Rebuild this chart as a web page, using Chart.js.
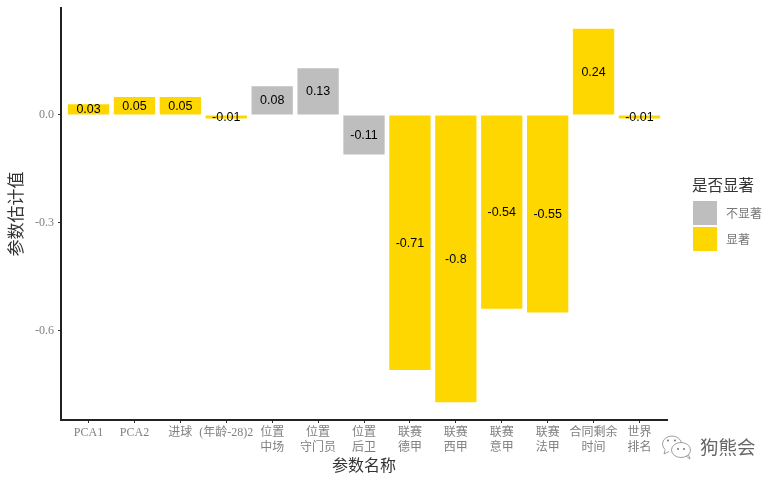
<!DOCTYPE html>
<html>
<head>
<meta charset="utf-8">
<script src="https://cdn.jsdelivr.net/npm/chart.js@4"></script>
<style>
html, body { margin: 0; padding: 0; background: #fff; }
canvas { display: block; }
</style>
</head>
<body>
<canvas id="chart" width="781" height="482"></canvas>
<script>
// Parameter estimates for each model term, with significance flag
const categories = [
  'PCA1', 'PCA2', '进球', '(年龄-28)2', ['位置', '中场'], ['位置', '守门员'], ['位置', '后卫'],
  ['联赛', '德甲'], ['联赛', '西甲'], ['联赛', '意甲'], ['联赛', '法甲'], ['合同剩余', '时间'], ['世界', '排名']
];
const estimates = [0.03, 0.05, 0.05, -0.01, 0.08, 0.13, -0.11, -0.71, -0.8, -0.54, -0.55, 0.24, -0.01];
const significant = [1, 1, 1, 1, 0, 0, 0, 1, 1, 1, 1, 1, 1];
const yTicks = [-0.6, -0.3, 0];
const groupNames = ['不显著', '显著'];
const groupColors = ['#BEBEBE', '#FFD700'];
const legendTitle = '是否显著';
const xTitle = '参数名称';
const yTitle = '参数估计值';
const brand = '狗熊会';

const CJK = '"Noto Sans CJK SC", sans-serif';
const TICK_FONT = '"Liberation Serif", "Noto Sans CJK SC", serif';

function pointsFor(flag) {
  const out = [];
  estimates.forEach((v, i) => { if (significant[i] === flag) out.push({ x: i, y: v }); });
  return out;
}

// Writes each estimate at the middle of its bar
const barValueLabels = {
  id: 'barValueLabels',
  afterDatasetsDraw(chart) {
    const ctx = chart.ctx;
    ctx.save();
    ctx.font = '12.5px "Liberation Sans", sans-serif';
    ctx.fillStyle = '#000';
    ctx.textAlign = 'center';
    ctx.textBaseline = 'middle';
    chart.data.datasets.forEach((ds, d) => {
      chart.getDatasetMeta(d).data.forEach((bar, i) => {
        ctx.fillText(String(ds.data[i].y), bar.x, (bar.y + bar.base) / 2 + 0.5);
      });
    });
    ctx.restore();
  }
};

// Significance key placed to the right of the plot
const sideKey = {
  id: 'sideKey',
  afterDraw(chart) {
    const ctx = chart.ctx;
    ctx.save();
    ctx.textBaseline = 'middle';
    ctx.textAlign = 'left';
    ctx.fillStyle = '#333';
    ctx.font = '15.5px ' + CJK;
    ctx.fillText(legendTitle, 692, 185);
    chart.data.datasets.forEach((ds, i) => {
      const top = 201 + i * 26;
      ctx.fillStyle = ds.backgroundColor;
      ctx.fillRect(693, top, 24, 24);
      ctx.fillStyle = '#777';
      ctx.font = '12px ' + CJK;
      ctx.fillText(ds.label, 726, top + 12);
    });
    ctx.restore();
  }
};

// Account mark in the lower right corner: two chat bubbles and the name
const accountMark = {
  id: 'accountMark',
  afterDraw(chart) {
    const ctx = chart.ctx;
    ctx.save();
    ctx.strokeStyle = '#777';
    ctx.lineWidth = 0.7;
    ctx.beginPath();
    ctx.ellipse(672, 444, 9.5, 8, 0, Math.PI * 0.75, Math.PI * 0.25 + Math.PI * 2);
    ctx.moveTo(665, 450);
    ctx.lineTo(664, 454);
    ctx.lineTo(669, 451.5);
    ctx.stroke();
    ctx.beginPath();
    ctx.fillStyle = '#fff';
    ctx.ellipse(681, 450, 9.5, 7.5, 0, 0, Math.PI * 2);
    ctx.fill();
    ctx.stroke();
    ctx.beginPath();
    ctx.moveTo(686, 456);
    ctx.lineTo(690, 459);
    ctx.lineTo(688.5, 454.5);
    ctx.stroke();
    ctx.fillStyle = '#666';
    [[668, 440.5], [675, 440.5], [678, 449], [684, 449]].forEach(p => {
      ctx.beginPath();
      ctx.arc(p[0], p[1], 0.9, 0, Math.PI * 2);
      ctx.fill();
    });
    ctx.fillStyle = '#666';
    ctx.font = '18.5px ' + CJK;
    ctx.textAlign = 'left';
    ctx.textBaseline = 'middle';
    ctx.fillText(brand, 700, 447);
    ctx.restore();
  }
};

new Chart(document.getElementById('chart'), {
  type: 'bar',
  data: {
    datasets: groupNames.map((name, g) => ({
      label: name,
      data: pointsFor(g === 1 ? 1 : 0),
      backgroundColor: groupColors[g]
    }))
  },
  options: {
    responsive: false,
    animation: false,
    devicePixelRatio: 1,
    grouped: false,
    barPercentage: 0.9,
    categoryPercentage: 1,
    layout: { padding: { top: 8, right: 114, left: 0, bottom: 0 } },
    plugins: { legend: { display: false }, tooltip: { enabled: false } },
    scales: {
      x: {
        type: 'linear',
        offset: false,
        min: -0.6,
        max: 12.6,
        afterBuildTicks(axis) { axis.ticks = categories.map((_, i) => ({ value: i })); },
        afterFit(axis) { axis.height = 62; axis.paddingLeft = 0; axis.paddingRight = 0; },
        border: { color: '#222', width: 2 },
        grid: { offset: false, drawOnChartArea: false, color: '#333', tickLength: 3, tickWidth: 1 },
        ticks: {
          autoSkip: false,
          maxRotation: 0,
          minRotation: 0,
          padding: 3,
          color: '#808080',
          font: { family: TICK_FONT, size: 12, lineHeight: 1.2 },
          callback: v => categories[v]
        },
        title: {
          display: true,
          text: xTitle,
          color: '#333',
          font: { family: CJK, size: 16 },
          padding: { top: 0, bottom: 7 }
        }
      },
      y: {
        type: 'linear',
        min: -0.8496,
        max: 0.298,
        afterBuildTicks(axis) { axis.ticks = yTicks.map(v => ({ value: v })); },
        afterFit(axis) { axis.width = 61; axis.paddingTop = 0; axis.paddingBottom = 0; },
        border: { color: '#222', width: 2 },
        grid: { drawOnChartArea: false, color: '#333', tickLength: 3, tickWidth: 1 },
        ticks: {
          padding: 4,
          color: '#808080',
          font: { family: TICK_FONT, size: 12 },
          callback: v => v.toFixed(1)
        },
        title: {
          display: true,
          text: yTitle,
          color: '#333',
          font: { family: CJK, size: 17 },
          padding: { top: 5, bottom: 0 }
        }
      }
    }
  },
  plugins: [barValueLabels, sideKey, accountMark]
});
</script>
</body>
</html>
